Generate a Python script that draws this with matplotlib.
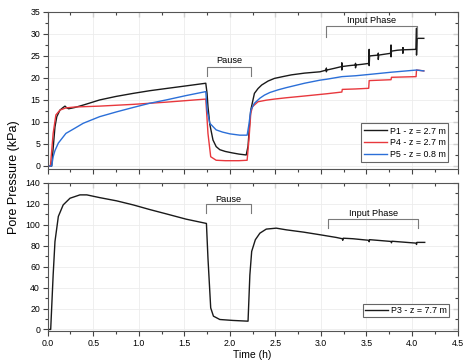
import matplotlib
matplotlib.use("Agg")
import matplotlib.pyplot as plt
from matplotlib.ticker import MultipleLocator

plt.rcParams['font.family'] = ['Liberation Sans', 'DejaVu Sans']

# P1 - z = 2.7 m (black)
t_p1 = [0, 0.044, 0.06, 0.08, 0.10, 0.135, 0.17, 0.19, 0.21, 0.23, 0.3, 0.4, 0.57, 0.75,
        0.94, 1.12, 1.30, 1.52, 1.736, 1.75, 1.76, 1.78, 1.815, 1.85, 1.89, 1.95, 2.02,
        2.10, 2.18, 2.20, 2.215, 2.23, 2.27, 2.31, 2.35, 2.42, 2.49, 2.58, 2.675, 2.82,
        2.99, 3.06, 3.06, 3.06, 3.065, 3.15, 3.23, 3.23, 3.23, 3.235, 3.31, 3.38, 3.38,
        3.38, 3.385, 3.45, 3.525, 3.53, 3.53, 3.535, 3.58, 3.63, 3.63, 3.63, 3.635, 3.70,
        3.765, 3.77, 3.77, 3.775, 3.84, 3.90, 3.90, 3.90, 3.905, 3.98, 4.045, 4.05, 4.05,
        4.055, 4.13]
v_p1 = [0, 0, 4.0, 8.9, 11.2, 12.7, 13.3, 13.6, 13.2, 13.0, 13.3, 13.9, 15.0, 15.8,
        16.5, 17.1, 17.6, 18.2, 18.8, 16.5, 13.5, 9.5, 5.9, 4.4, 3.7, 3.3, 3.0,
        2.7, 2.5, 4.5, 9.0, 12.7, 16.5, 17.6, 18.4, 19.3, 19.9, 20.3, 20.7, 21.1,
        21.4, 21.8, 22.2, 21.4, 21.8, 22.2, 22.6, 23.4, 21.8, 22.6, 22.8, 22.95, 23.3,
        22.3, 22.95, 23.1, 23.3, 26.5, 22.8, 25.0, 25.1, 25.2, 25.6, 24.2, 25.2, 25.4,
        25.6, 27.5, 24.8, 26.1, 26.3, 26.4, 26.9, 25.6, 26.4, 26.45, 26.5, 31.3, 25.2,
        29.0, 29.0]

# P4 - z = 2.7 m (red)
t_p4 = [0, 0.03, 0.06, 0.09, 0.135, 0.2, 0.3, 0.57, 0.94, 1.30, 1.736, 1.76, 1.79,
        1.85, 1.95, 2.1, 2.19, 2.21, 2.23, 2.25, 2.31, 2.40, 2.49, 2.62, 2.82, 3.06,
        3.23, 3.235, 3.38, 3.525, 3.53, 3.77, 3.775, 4.045, 4.05, 4.13]
v_p4 = [0, 0, 7.4, 11.6, 12.7, 13.2, 13.4, 13.6, 14.0, 14.5, 15.2, 7.4, 2.1,
        1.3, 1.2, 1.2, 1.3, 6.0, 12.0, 13.5, 14.6, 14.95, 15.2, 15.5, 15.9, 16.4,
        16.8, 17.4, 17.5, 17.65, 19.4, 19.6, 20.15, 20.3, 21.8, 21.6]

# P5 - z = 0.8 m (blue)
t_p5 = [0, 0.044, 0.06, 0.08, 0.117, 0.2, 0.3, 0.39, 0.57, 0.757, 0.94, 1.12, 1.30,
        1.52, 1.736, 1.75, 1.78, 1.85, 1.92, 2.0, 2.11, 2.19, 2.21, 2.23, 2.27, 2.33,
        2.38, 2.44, 2.53, 2.62, 2.82, 2.99, 3.06, 3.23, 3.38, 3.53, 3.77, 4.05, 4.13]
v_p5 = [0, 0, 2.1, 3.5, 5.2, 7.4, 8.6, 9.7, 11.2, 12.3, 13.3, 14.25, 15.0,
        16.0, 16.9, 12.7, 9.7, 8.2, 7.7, 7.3, 7.0, 7.0, 9.5, 12.7, 14.25, 15.4,
        16.1, 16.7, 17.3, 17.8, 18.8, 19.5, 19.7, 20.3, 20.5, 20.8, 21.3, 21.8, 21.6]

# P3 - z = 7.7 m (black, lower panel)
t_p3 = [0, 0.033, 0.06, 0.08, 0.117, 0.17, 0.245, 0.354, 0.43, 0.57, 0.757, 0.94,
        1.12, 1.30, 1.52, 1.743, 1.76, 1.79, 1.82, 1.89, 2.035, 2.20, 2.22, 2.24,
        2.28, 2.33, 2.40, 2.51, 2.62, 2.81, 2.99, 3.17, 3.235, 3.24, 3.245, 3.35,
        3.525, 3.53, 3.535, 3.77, 3.775, 3.78, 4.045, 4.05, 4.055, 4.14]
v_p3 = [0, 0, 52, 84, 108, 119, 125.4, 128.6, 128.6, 126, 122.9, 119,
        114.6, 110.5, 105.4, 101.3, 68, 20.6, 12.7, 9.5, 8.6, 7.9, 52, 74.6,
        85.7, 92, 95.9, 96.8, 95.2, 93, 90.5, 87.9, 86.7, 85.2, 87.2, 86.7,
        85.2, 83.8, 85.8, 84.1, 82.8, 84.3, 82.5, 81.2, 83.2, 83.2]

GRAY = '#7a7a7a'
TICK_FS = 6.3
NOTE_FS = 6.6
LEG_FS = 6.4


def style_axes(ax, ylim, ymajor, yminor):
    ax.set_xlim(0, 4.5)
    ax.set_ylim(*ylim)
    ax.xaxis.set_major_locator(MultipleLocator(0.5))
    ax.xaxis.set_minor_locator(MultipleLocator(0.25))
    ax.yaxis.set_major_locator(MultipleLocator(ymajor))
    ax.yaxis.set_minor_locator(MultipleLocator(yminor))
    ax.tick_params(which='both', direction='out', labelsize=TICK_FS, width=0.8,
                   color='#444444', pad=2)
    ax.tick_params(which='major', length=3.5)
    ax.tick_params(which='minor', length=2)
    ax.grid(True, which='major', color='#ececec', linewidth=0.6)
    for s in ax.spines.values():
        s.set_color('#555555')
        s.set_linewidth(0.8)
    # inward ticks on the top and right (Origin style)
    top = ax.secondary_xaxis('top')
    right = ax.secondary_yaxis('right')
    top.xaxis.set_major_locator(MultipleLocator(0.5))
    top.xaxis.set_minor_locator(MultipleLocator(0.25))
    right.yaxis.set_major_locator(MultipleLocator(ymajor))
    right.yaxis.set_minor_locator(MultipleLocator(yminor))
    for sec in (top, right):
        sec.tick_params(which='both', direction='in', labeltop=False, labelright=False,
                        width=0.8, color='#444444')
        sec.tick_params(which='major', length=3.5)
        sec.tick_params(which='minor', length=2)
        for s in sec.spines.values():
            s.set_visible(False)


def bracket(ax, x0, x1, ylo, yhi, ytext, label):
    ax.plot([x0, x0, x1, x1], [ylo, yhi, yhi, ylo], color=GRAY, lw=0.8)
    ax.text((x0 + x1) / 2, ytext, label, ha='center', va='center', fontsize=NOTE_FS)


fig = plt.figure(figsize=(4.74, 3.62), dpi=100)
ax1 = fig.add_axes([0.1006, 0.533, 0.8646, 0.434])
ax2 = fig.add_axes([0.1006, 0.0856, 0.8646, 0.409])

ax1.plot(t_p1, v_p1, color='#1a1a1a', lw=1.0, label='P1 - z = 2.7 m')
ax1.plot(t_p4, v_p4, color='#e8383d', lw=1.0, label='P4 - z = 2.7 m')
ax1.plot(t_p5, v_p5, color='#2b6fd8', lw=1.0, label='P5 - z = 0.8 m')
style_axes(ax1, (-0.7, 35), 5, 2.5)
ax1.set_xticklabels([])
bracket(ax1, 1.75, 2.23, 20.4, 22.6, 23.9, 'Pause')
bracket(ax1, 3.055, 4.05, 29.4, 31.7, 33.1, 'Input Phase')
leg1 = ax1.legend(loc='lower right', bbox_to_anchor=(0.978, 0.045), fontsize=LEG_FS,
                  fancybox=False, edgecolor='#666666', framealpha=1, handlelength=2.6,
                  handletextpad=0.3, labelspacing=0.3, borderpad=0.35, borderaxespad=0)
leg1.get_frame().set_linewidth(0.8)

ax2.plot(t_p3, v_p3, color='#1a1a1a', lw=1.0, label='P3 - z = 7.7 m')
style_axes(ax2, (-1.5, 140), 20, 10)
bracket(ax2, 1.74, 2.23, 111, 119.6, 124.4, 'Pause')
bracket(ax2, 3.08, 4.07, 96.8, 105.4, 111, 'Input Phase')
leg2 = ax2.legend(loc='lower right', bbox_to_anchor=(0.979, 0.095), fontsize=LEG_FS,
                  fancybox=False, edgecolor='#666666', framealpha=1, handlelength=2.6,
                  handletextpad=0.3, borderpad=0.25, borderaxespad=0)
leg2.get_frame().set_linewidth(0.8)
ax2.set_xlabel('Time (h)', fontsize=7.5, labelpad=2)

fig.text(0.03, 0.511, 'Pore Pressure (kPa)', rotation=90, ha='center', va='center',
         fontsize=9)

fig.savefig('out.png', dpi=100)
